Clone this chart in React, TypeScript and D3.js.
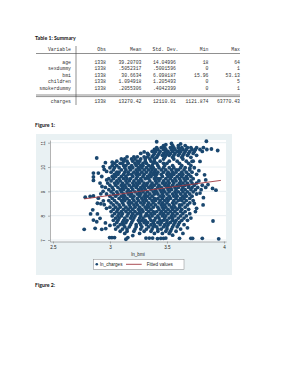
import * as d3 from "d3";
import { useEffect, useRef } from "react";

// Table 1: summary statistics
const tableHeader = ["Variable", "Obs", "Mean", "Std. Dev.", "Min", "Max"];
const varNames = ["age", "sexdummy", "bmi", "children", "smokerdummy"];
const varObs = ["1338", "1338", "1338", "1338", "1338"];
const varMean = ["39.20703", ".5052317", "30.6634", "1.094918", ".2055306"];
const varSd = ["14.04996", ".5001596", "6.098187", "1.205493", ".4042399"];
const varMin = ["18", "0", "15.96", "0", "0"];
const varMax = ["64", "1", "53.13", "5", "1"];
const depRow = ["charges", "1338", "13270.42", "12110.01", "1121.874", "63770.43"];

// Figure 1: ln_charges against ln_bmi, dense part read row by row
const cloudCharges = [10.42, 10.33, 10.24, 10.15, 10.06, 9.97, 9.88, 9.79, 9.7, 9.61, 9.52, 9.43, 9.34, 9.25, 9.16, 9.07, 8.98, 8.89, 8.8, 8.71, 8.62, 8.53, 8.44, 8.35, 8.26, 8.17, 8.08, 7.99, 7.9, 7.81, 7.72, 7.63, 7.54, 7.45, 7.36, 7.27];
const cloudBmi = [
  [3.15, 3.21, 3.24, 3.3, 3.33, 3.37],
  [3.1, 3.13, 3.19, 3.22, 3.27, 3.31, 3.35, 3.39, 3.47, 3.56, 3.64],
  [3.06, 3.12, 3.15, 3.2, 3.24, 3.26, 3.31, 3.36, 3.39, 3.44, 3.52, 3.59, 3.67, 3.73],
  [3.04, 3.09, 3.11, 3.16, 3.22, 3.25, 3.29, 3.32, 3.38, 3.41, 3.47, 3.5, 3.61, 3.69],
  [3.02, 3.06, 3.12, 3.14, 3.19, 3.23, 3.27, 3.29, 3.34, 3.37, 3.42, 3.48, 3.55, 3.63, 3.71],
  [3.0, 3.04, 3.08, 3.13, 3.17, 3.2, 3.25, 3.28, 3.32, 3.36, 3.38, 3.43, 3.47, 3.52, 3.56, 3.62, 3.66, 3.74],
  [3.03, 3.1, 3.14, 3.18, 3.23, 3.26, 3.3, 3.34, 3.37, 3.4, 3.45, 3.49, 3.54, 3.58, 3.6, 3.65, 3.7],
  [3.01, 3.06, 3.08, 3.13, 3.16, 3.21, 3.24, 3.28, 3.32, 3.36, 3.39, 3.42, 3.47, 3.51, 3.55, 3.58, 3.63, 3.67, 3.72],
  [3.04, 3.07, 3.12, 3.16, 3.19, 3.23, 3.26, 3.3, 3.35, 3.38, 3.41, 3.45, 3.5, 3.53, 3.56, 3.61, 3.64, 3.69, 3.76],
  [3.02, 3.05, 3.1, 3.14, 3.2, 3.24, 3.29, 3.33, 3.36, 3.4, 3.46, 3.51, 3.54, 3.59, 3.63, 3.67, 3.71],
  [2.99, 3.03, 3.08, 3.12, 3.15, 3.18, 3.23, 3.27, 3.31, 3.34, 3.39, 3.42, 3.44, 3.49, 3.53, 3.57, 3.61, 3.65, 3.68, 3.73],
  [3.01, 3.06, 3.09, 3.14, 3.17, 3.21, 3.25, 3.28, 3.35, 3.4, 3.43, 3.47, 3.51, 3.55, 3.58, 3.62, 3.66, 3.71, 3.78],
  [2.98, 3.04, 3.07, 3.11, 3.15, 3.2, 3.23, 3.26, 3.3, 3.33, 3.37, 3.41, 3.46, 3.49, 3.52, 3.56, 3.61, 3.64, 3.68, 3.72, 3.76],
  [3.0, 3.05, 3.1, 3.13, 3.17, 3.21, 3.24, 3.29, 3.32, 3.36, 3.39, 3.43, 3.48, 3.51, 3.55, 3.59, 3.62, 3.66, 3.69, 3.74, 3.81],
  [2.96, 3.02, 3.07, 3.11, 3.14, 3.19, 3.23, 3.27, 3.3, 3.34, 3.37, 3.42, 3.45, 3.5, 3.53, 3.57, 3.6, 3.64, 3.69, 3.72, 3.77, 3.84],
  [2.99, 3.03, 3.09, 3.12, 3.16, 3.2, 3.25, 3.28, 3.31, 3.36, 3.4, 3.44, 3.47, 3.51, 3.54, 3.58, 3.63, 3.66, 3.71, 3.75, 3.8],
  [3.01, 3.06, 3.1, 3.15, 3.18, 3.22, 3.26, 3.29, 3.33, 3.38, 3.41, 3.45, 3.48, 3.52, 3.57, 3.6, 3.64, 3.68, 3.73],
  [2.97, 3.03, 3.07, 3.12, 3.16, 3.19, 3.24, 3.27, 3.31, 3.35, 3.39, 3.42, 3.46, 3.5, 3.55, 3.58, 3.62, 3.66, 3.7, 3.76],
  [3.0, 3.05, 3.1, 3.13, 3.18, 3.21, 3.26, 3.3, 3.33, 3.37, 3.44, 3.47, 3.52, 3.56, 3.59, 3.64, 3.67, 3.72],
  [3.02, 3.08, 3.12, 3.15, 3.2, 3.24, 3.28, 3.31, 3.35, 3.39, 3.42, 3.46, 3.5, 3.53, 3.58, 3.62, 3.65, 3.7],
  [2.99, 3.04, 3.1, 3.13, 3.17, 3.21, 3.25, 3.29, 3.32, 3.37, 3.4, 3.44, 3.48, 3.51, 3.56, 3.6, 3.63, 3.67, 3.73],
  [3.01, 3.06, 3.11, 3.16, 3.19, 3.23, 3.27, 3.3, 3.34, 3.38, 3.43, 3.46, 3.5, 3.55, 3.58, 3.65, 3.7],
  [3.03, 3.08, 3.12, 3.17, 3.21, 3.24, 3.29, 3.33, 3.36, 3.4, 3.45, 3.48, 3.52, 3.56, 3.61, 3.63, 3.68],
  [3.0, 3.05, 3.09, 3.14, 3.18, 3.22, 3.26, 3.31, 3.34, 3.38, 3.42, 3.46, 3.49, 3.54, 3.57, 3.61, 3.66],
  [3.03, 3.07, 3.12, 3.16, 3.2, 3.25, 3.28, 3.32, 3.36, 3.43, 3.47, 3.51, 3.55, 3.59, 3.63, 3.69],
  [3.01, 3.06, 3.1, 3.14, 3.18, 3.22, 3.26, 3.29, 3.34, 3.38, 3.41, 3.45, 3.49, 3.53, 3.57, 3.62, 3.66],
  [3.04, 3.08, 3.11, 3.16, 3.2, 3.24, 3.27, 3.32, 3.36, 3.39, 3.44, 3.47, 3.51, 3.55, 3.59, 3.64, 3.7],
  [3.02, 3.07, 3.1, 3.15, 3.19, 3.22, 3.27, 3.31, 3.34, 3.37, 3.42, 3.46, 3.49, 3.54, 3.57, 3.62, 3.67],
  [3.05, 3.08, 3.13, 3.18, 3.21, 3.26, 3.29, 3.35, 3.4, 3.43, 3.48, 3.52, 3.55, 3.6, 3.65],
  [3.03, 3.07, 3.12, 3.15, 3.2, 3.25, 3.28, 3.31, 3.36, 3.39, 3.44, 3.47, 3.5, 3.55, 3.58, 3.63, 3.68],
  [3.06, 3.11, 3.14, 3.19, 3.26, 3.3, 3.33, 3.38, 3.42, 3.45, 3.5, 3.53, 3.57, 3.61],
  [3.04, 3.09, 3.12, 3.18, 3.23, 3.27, 3.32, 3.36, 3.39, 3.44, 3.48, 3.51, 3.56, 3.6, 3.65],
  [3.07, 3.13, 3.17, 3.23, 3.28, 3.34, 3.38, 3.41, 3.47, 3.5, 3.55, 3.59],
  [3.05, 3.11, 3.15, 3.22, 3.27, 3.32, 3.37, 3.42, 3.45, 3.5, 3.54, 3.62],
  [3.09, 3.15, 3.21, 3.3, 3.36, 3.42, 3.49, 3.53, 3.58],
  [3.13, 3.26, 3.39, 3.46, 3.52, 3.64],
];

// smokers with high bmi, the band near the top
const bandCharges = [10.88, 10.8, 10.72, 10.64, 10.56, 10.48, 10.4];
const bandBmi = [
  [3.47, 3.55, 3.6, 3.66],
  [3.41, 3.45, 3.48, 3.53, 3.56, 3.6, 3.63, 3.68, 3.71, 3.76, 3.82],
  [3.39, 3.42, 3.47, 3.49, 3.54, 3.57, 3.61, 3.64, 3.67, 3.72, 3.75, 3.79, 3.85],
  [3.37, 3.4, 3.44, 3.49, 3.51, 3.55, 3.59, 3.62, 3.66, 3.7, 3.74, 3.81],
  [3.27, 3.33, 3.39, 3.43, 3.47, 3.5, 3.53, 3.57, 3.61, 3.65, 3.69, 3.73],
  [3.38, 3.42, 3.46, 3.49, 3.52, 3.56, 3.6, 3.64, 3.68, 3.76],
  [3.41, 3.48, 3.55, 3.63, 3.71],
];

// scattered points around the edges
const sparseBmi = [
  3.41, 3.54, 3.62, 3.846, 3.49, 3.945, 3.89, 3.3, 3.34,
  2.884, 2.942, 2.971, 2.855, 2.855, 2.855, 2.898, 2.928, 2.913, 2.971, 2.826, 2.783, 2.855, 2.898, 2.942,
  2.89, 2.92, 2.95, 2.849, 2.89, 2.83, 2.855, 2.884, 2.913, 2.774, 2.87, 2.928, 2.963, 2.94, 2.93, 2.95,
  2.96, 2.92, 3.02, 2.97, 2.96, 3.0,
  2.997, 3.017, 3.04, 3.14, 3.157, 3.316, 3.345, 3.374, 3.417, 3.446, 3.47, 3.49, 3.61, 3.71, 3.725, 3.81,
  3.954, 3.2, 3.55,
  3.904, 3.817, 3.75, 3.79, 3.82, 3.86, 3.9, 3.93, 3.84, 3.72, 3.79, 3.7, 3.83, 3.78, 3.74, 3.71, 3.68, 3.76,
];
const sparseCharges = [
  11.04, 10.97, 10.95, 11.06, 10.92, 10.68, 10.74, 10.62, 10.5,
  10.37, 10.02, 9.82, 9.75, 9.59, 9.45, 9.75, 9.61, 9.34, 9.47, 8.79, 8.76, 8.81, 8.72, 8.61,
  8.51, 8.49, 8.45, 8.24, 8.07, 8.07, 7.82, 7.75, 7.89, 7.44, 7.48, 7.44, 7.47, 9.0, 9.2, 9.9,
  10.18, 8.9, 10.2, 8.3, 7.7, 7.6,
  7.1, 7.1, 7.1, 7.03, 7.1, 7.08, 7.08, 7.08, 7.06, 7.07, 7.07, 7.08, 7.07, 7.07, 7.07, 7.07,
  7.05, 7.18, 7.2,
  7.78, 8.44, 8.17, 8.93, 8.74, 9.28, 9.12, 9.05, 9.47, 10.23, 10.23, 9.95, 9.68, 9.85, 8.5, 7.9, 7.5, 8.3,
];

// fitted regression line
const fitBmi = [2.774, 3.973];
const fitCharges = [8.69, 9.45];

const xTicks = [2.5, 3, 3.5, 4];
const yTicks = [7, 8, 9, 10, 11];
const legendLabels = ["ln_charges", "Fitted values"];

const App = () => {
  const ref = useRef<SVGSVGElement>(null);

  useEffect(() => {
    const svg = d3.select(ref.current);
    svg.selectAll("*").remove();

    const mono = "'Liberation Mono', 'DejaVu Sans Mono', monospace";
    const sans = "'Liberation Sans', Arial, sans-serif";
    const doc = "Lato, 'Open Sans', sans-serif";

    // page headings
    svg.append("text").attr("x", 35).attr("y", 39.5).attr("font-family", doc)
      .attr("font-weight", "bold").attr("font-size", 5.2).attr("fill", "#111").text("Table 1: Summary");
    svg.append("text").attr("x", 35).attr("y", 126.8).attr("font-family", doc)
      .attr("font-weight", "bold").attr("font-size", 5.2).attr("fill", "#111").text("Figure 1:");
    svg.append("text").attr("x", 35).attr("y", 286.8).attr("font-family", doc)
      .attr("font-weight", "bold").attr("font-size", 5.2).attr("fill", "#111").text("Figure 2:");

    // summary table
    const colRight = [71, 106, 141.5, 176, 208.5, 240];
    const headRight = [71, 106, 141.5, 178.5, 208.5, 240];
    const table = svg.append("g").attr("font-family", mono).attr("font-size", 4.8)
      .attr("fill", "#333").attr("text-anchor", "end");
    tableHeader.forEach((h, i) => {
      table.append("text").attr("x", headRight[i]).attr("y", 50.6).text(h);
    });
    const rows = varNames.map((n, i) => [n, varObs[i], varMean[i], varSd[i], varMin[i], varMax[i]]);
    rows.forEach((r, j) => {
      r.forEach((v, i) => {
        table.append("text").attr("x", colRight[i]).attr("y", 63.8 + j * 6.5).text(v);
      });
    });
    depRow.forEach((v, i) => {
      table.append("text").attr("x", colRight[i]).attr("y", 102.8).text(v);
    });
    const rule = (x1: number, y1: number, x2: number, y2: number) =>
      svg.append("line").attr("x1", x1).attr("y1", y1).attr("x2", x2).attr("y2", y2)
        .attr("stroke", "#444").attr("stroke-width", 0.6);
    rule(76, 46, 76, 105);
    rule(36, 53.5, 240, 53.5);
    rule(36, 95, 240, 95);
    rule(36, 96.6, 240, 96.6);

    // chart panel
    svg.append("rect").attr("x", 36).attr("y", 134).attr("width", 196).attr("height", 141).attr("fill", "#e9f1f3");
    svg.append("rect").attr("x", 50).attr("y", 140).attr("width", 176).attr("height", 101.5).attr("fill", "#fff");

    const x = d3.scaleLinear().domain([2.474, 4.018]).range([50, 226]);
    const y = d3.scaleLinear().domain([6.938, 11.111]).range([241.5, 140]);

    // grid lines
    svg.append("g").selectAll("line").data(yTicks).join("line")
      .attr("x1", 50).attr("x2", 226).attr("y1", (d) => y(d)).attr("y2", (d) => y(d))
      .attr("stroke", "#e1eaee").attr("stroke-width", 0.8);

    // points
    const points: [number, number][] = [];
    cloudBmi.forEach((row, i) => row.forEach((b) => points.push([b, cloudCharges[i]])));
    bandBmi.forEach((row, i) => row.forEach((b) => points.push([b, bandCharges[i]])));
    sparseBmi.forEach((b, i) => points.push([b, sparseCharges[i]]));
    svg.append("g").selectAll("circle").data(points).join("circle")
      .attr("cx", (d) => x(d[0])).attr("cy", (d) => y(d[1])).attr("r", 1.9).attr("fill", "#1a476f");

    // fitted values
    const line = d3.line<number>().x((d) => x(d)).y((_, i) => y(fitCharges[i]));
    svg.append("path").attr("d", line(fitBmi)).attr("fill", "none")
      .attr("stroke", "#a03a42").attr("stroke-width", 0.9);

    // X axis
    const xAxis = svg.append("g").attr("transform", "translate(0,241.5)")
      .call(d3.axisBottom(x).tickValues(xTicks).tickSize(2).tickSizeOuter(0).tickFormat(d3.format("")));
    xAxis.select(".domain").attr("stroke", "#666").attr("stroke-width", 0.5);
    xAxis.selectAll(".tick line").attr("stroke", "#666").attr("stroke-width", 0.5);
    xAxis.selectAll("text").attr("font-family", sans).attr("font-size", 4.6).attr("fill", "#222").attr("y", 4).attr("dy", "0.71em");

    // Y axis with rotated labels
    const yAxis = svg.append("g").attr("transform", "translate(50,0)")
      .call(d3.axisLeft(y).tickValues(yTicks).tickSize(2).tickSizeOuter(0).tickFormat(d3.format("")));
    yAxis.select(".domain").attr("stroke", "#666").attr("stroke-width", 0.5);
    yAxis.selectAll(".tick line").attr("stroke", "#666").attr("stroke-width", 0.5);
    yAxis.selectAll("text").attr("font-family", sans).attr("font-size", 4.6).attr("fill", "#222")
      .attr("transform", "rotate(-90)").attr("x", 0).attr("y", -5.2).attr("dy", 0).attr("text-anchor", "middle");

    svg.append("text").attr("x", 138).attr("y", 255.6).attr("text-anchor", "middle")
      .attr("font-family", sans).attr("font-size", 4.6).attr("fill", "#222").text("ln_bmi");

    // legend
    svg.append("rect").attr("x", 93.3).attr("y", 259.3).attr("width", 90.7).attr("height", 10)
      .attr("fill", "#fff").attr("stroke", "#888").attr("stroke-width", 0.5);
    svg.append("circle").attr("cx", 96.8).attr("cy", 264.3).attr("r", 1.3).attr("fill", "#1a476f");
    svg.append("line").attr("x1", 126).attr("x2", 141.7).attr("y1", 264.3).attr("y2", 264.3)
      .attr("stroke", "#a03a42").attr("stroke-width", 0.9);
    svg.append("text").attr("x", 100).attr("y", 265.9).attr("font-family", sans).attr("font-size", 4.6)
      .attr("fill", "#222").text(legendLabels[0]);
    svg.append("text").attr("x", 146.7).attr("y", 265.9).attr("font-family", sans).attr("font-size", 4.6)
      .attr("fill", "#222").text(legendLabels[1]);
  }, []);

  return <svg ref={ref} width={300} height={388} style={{ position: "absolute", left: 0, top: 0, background: "#fff" }} />;
};

export default App;
